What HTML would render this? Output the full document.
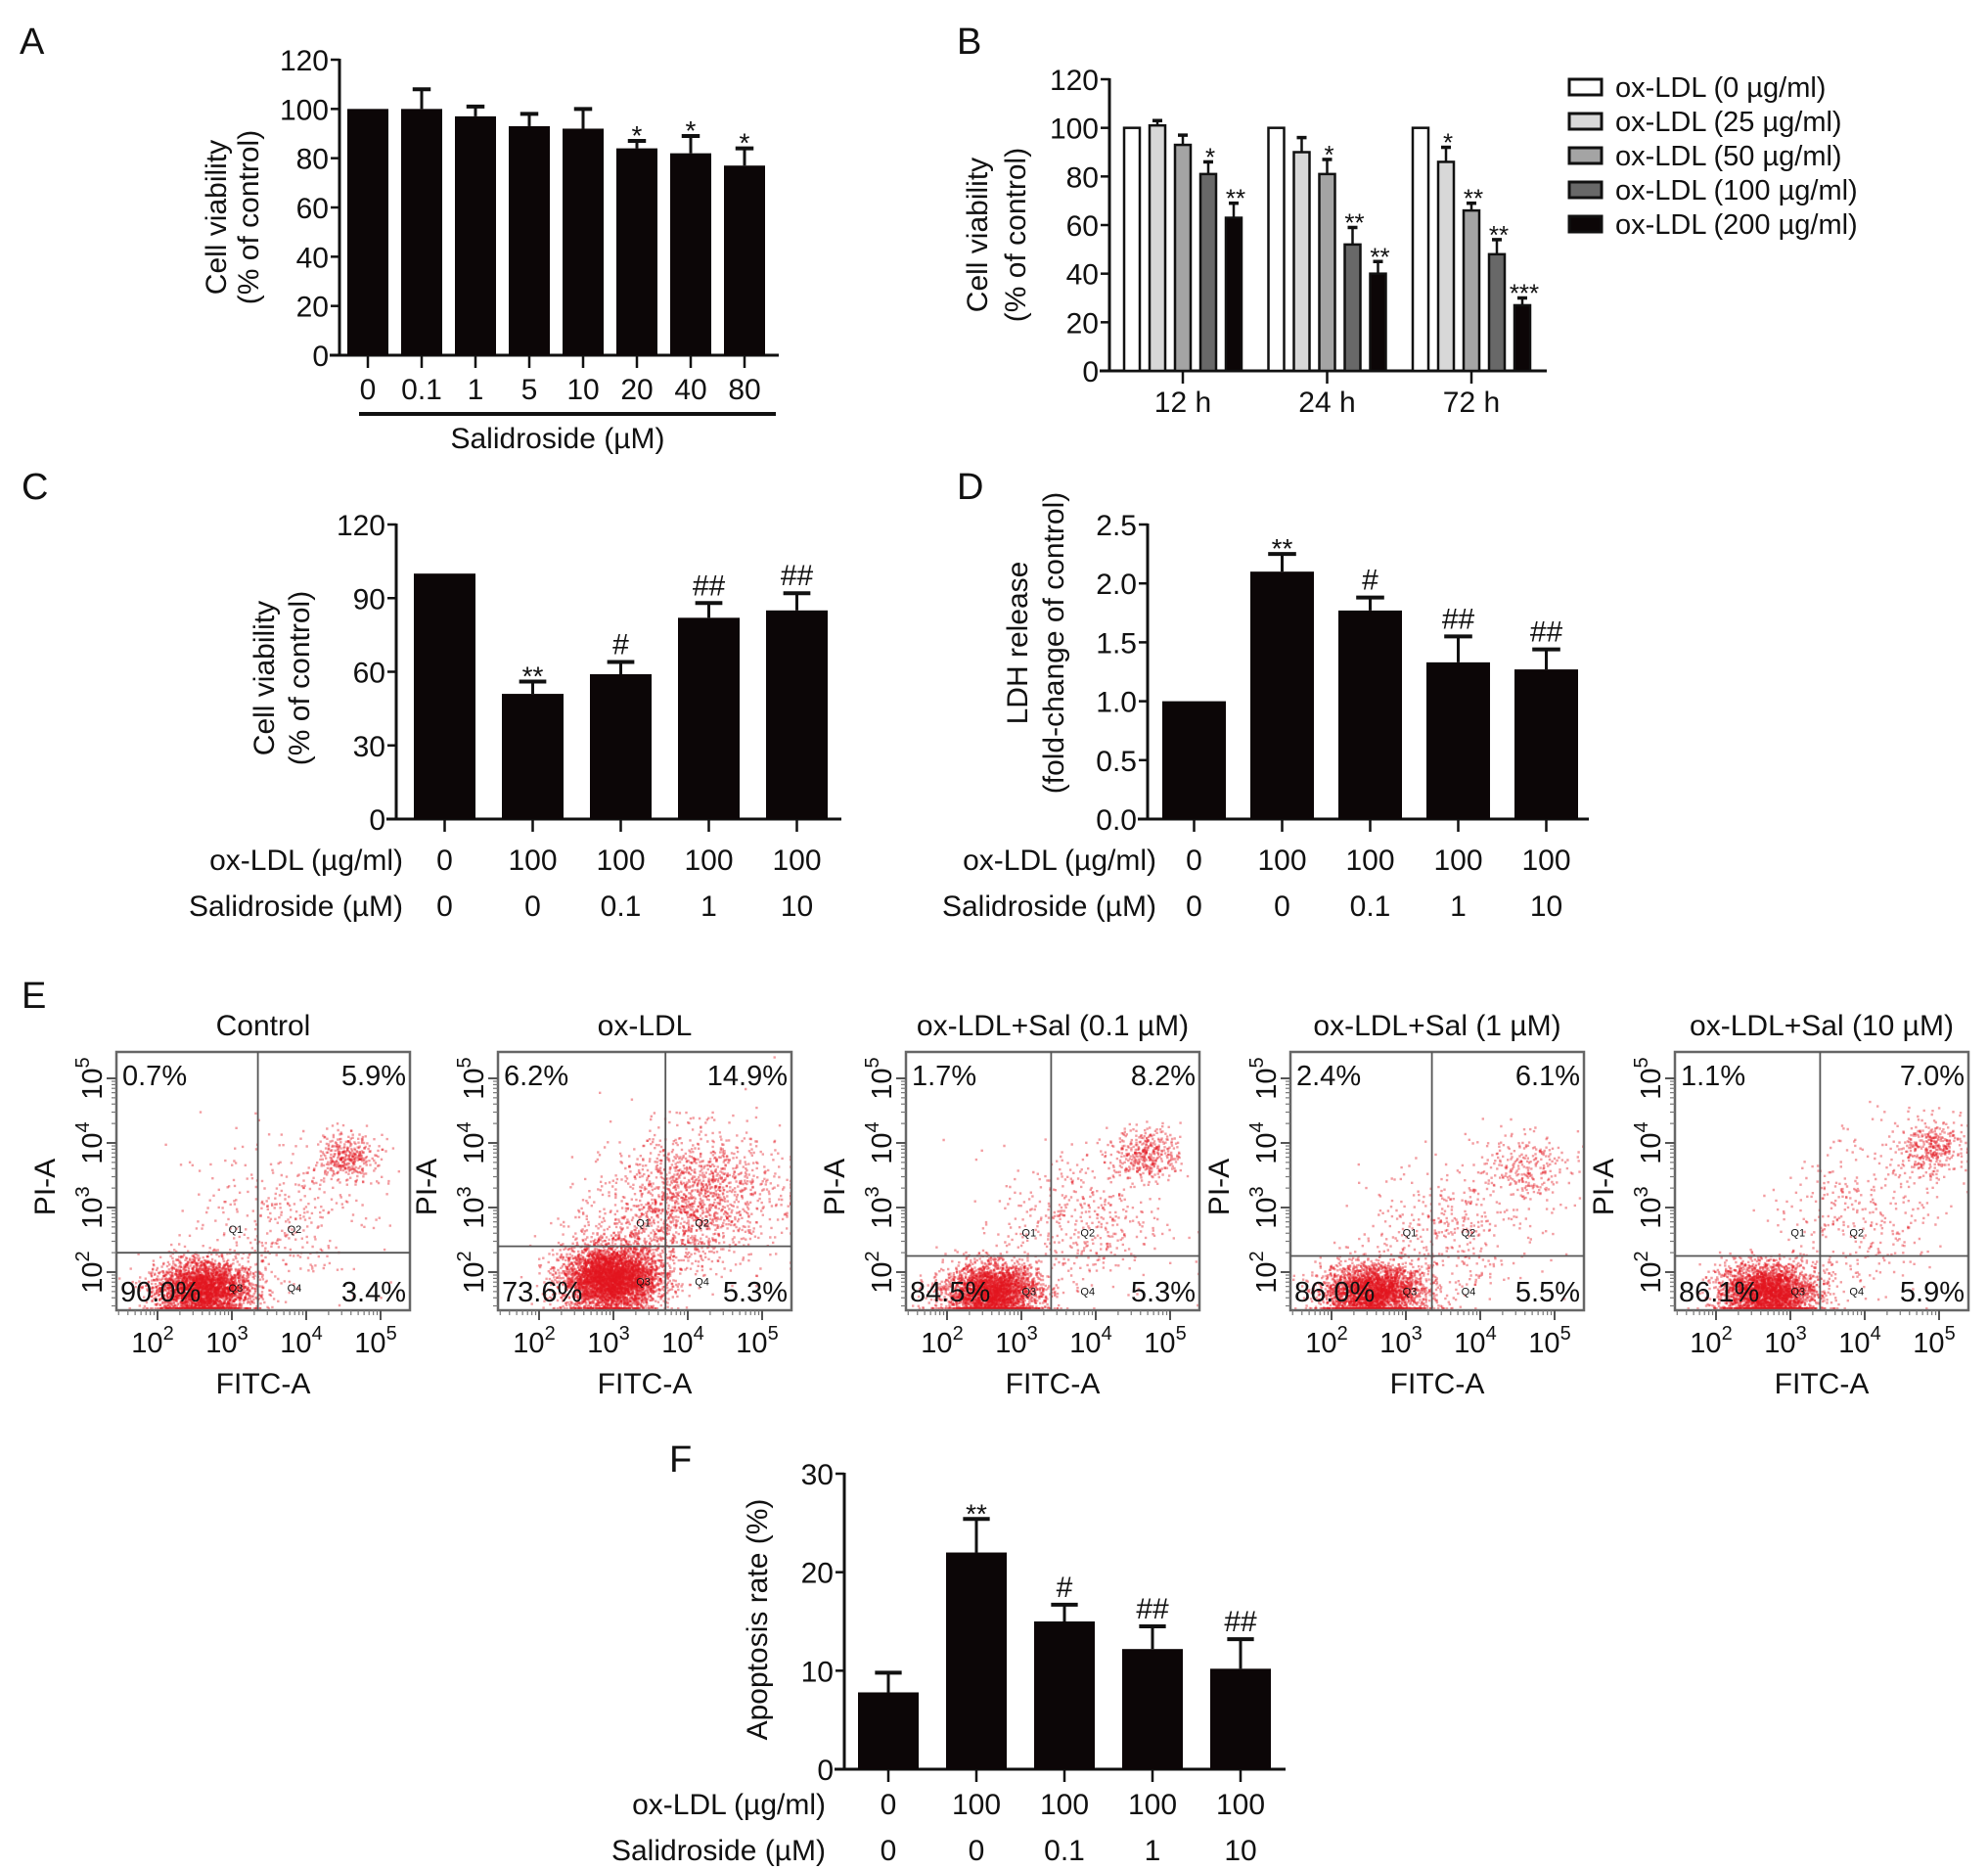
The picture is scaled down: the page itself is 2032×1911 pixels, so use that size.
<!DOCTYPE html>
<html><head><meta charset="utf-8"><style>
html,body{margin:0;padding:0;background:#fff;}
svg{display:block;}
text{font-family:"Liberation Sans",Arial,sans-serif;fill:#111;}
</style></head>
<body>
<svg id="fig" width="2032" height="1911" viewBox="0 0 2032 1911" xmlns="http://www.w3.org/2000/svg">
<rect x="0" y="0" width="2032" height="1911" fill="#fff"/>
</svg>
<script>
// ---------- DATA ----------
// Panel A
const aCats = ["0","0.1","1","5","10","20","40","80"];
const aVals = [100,100,97,93,92,84,82,77];
const aErr  = [0,8,4,5,8,3,7,7];
const aMarks = ["","","","","","*","*","*"];
const aTicks = [0,20,40,60,80,100,120];
// Panel B
const bGroups = ["12 h","24 h","72 h"];
const bSeries = ["ox-LDL (0 µg/ml)","ox-LDL (25 µg/ml)","ox-LDL (50 µg/ml)","ox-LDL (100 µg/ml)","ox-LDL (200 µg/ml)"];
const bVals12 = [100,101,93,81,63];
const bVals24 = [100,90,81,52,40];
const bVals72 = [100,86,66,48,27];
const bErr12 = [0,2,4,5,6];
const bErr24 = [0,6,6,7,5];
const bErr72 = [0,6,3,6,3];
const bMarks12 = ["","","","*","**"];
const bMarks24 = ["","","*","**","**"];
const bMarks72 = ["","*","**","**","***"];
const bTicks = [0,20,40,60,80,100,120];
// Panel C
const cOx = ["0","100","100","100","100"];
const cSal = ["0","0","0.1","1","10"];
const cVals = [100,51,59,82,85];
const cErr = [0,5,5,6,7];
const cMarks = ["","**","#","##","##"];
const cTicks = [0,30,60,90,120];
// Panel D
const dVals = [1.0,2.1,1.77,1.33,1.27];
const dErr = [0,0.15,0.11,0.22,0.17];
const dMarks = ["","**","#","##","##"];
const dTicks = [0,0.5,1.0,1.5,2.0,2.5];
const dTickLabels = ["0.0","0.5","1.0","1.5","2.0","2.5"];
// Panel F
const fVals = [7.8,22,15,12.2,10.2];
const fErr = [2,3.4,1.7,2.3,3];
const fMarks = ["","**","#","##","##"];
const fTicks = [0,10,20,30];
// Panel E (flow cytometry)
const eTitles = ["Control","ox-LDL","ox-LDL+Sal (0.1 µM)","ox-LDL+Sal (1 µM)","ox-LDL+Sal (10 µM)"];
const eQ1 = ["0.7%","6.2%","1.7%","2.4%","1.1%"];
const eQ2 = ["5.9%","14.9%","8.2%","6.1%","7.0%"];
const eQ3 = ["90.0%","73.6%","84.5%","86.0%","86.1%"];
const eQ4 = ["3.4%","5.3%","5.3%","5.5%","5.9%"];
// gate positions in log10 units
const eGateX = [3.35,3.7,3.4,3.35,3.4];
const eGateY = [2.3,2.4,2.25,2.25,2.25];
// clusters: [cx, cy, sx, sy, count] in log10 units
const eClusters = [
 [[2.6,1.75,0.32,0.22,3200],[4.55,3.8,0.2,0.18,350],[3.7,2.8,0.55,0.6,350]],
 [[2.95,1.9,0.32,0.25,4200],[4.1,3.2,0.55,0.5,1400],[3.4,2.5,0.5,0.4,500]],
 [[2.6,1.7,0.32,0.22,3000],[4.7,3.85,0.22,0.2,380],[3.8,2.8,0.55,0.6,450]],
 [[2.55,1.7,0.34,0.22,3000],[4.6,3.6,0.28,0.28,260],[3.6,2.6,0.55,0.55,400]],
 [[2.7,1.7,0.32,0.22,3000],[4.85,3.95,0.22,0.22,380],[3.9,2.9,0.55,0.6,350]]
];

// ---------- HELPERS ----------
const svg = document.getElementById('fig');
const NS = svg.namespaceURI;
function add(parent, tag, attrs, name, text) {
  const e = document.createElementNS(NS, tag);
  for (const k in attrs) e.setAttribute(k, attrs[k]);
  
  
  if (text != null) e.textContent = text;
  parent.appendChild(e);
  return e;
}
function rotText(parent, x, y, s, size, name) {
  return add(parent, 'text', {x:x, y:y, 'font-size':size, 'text-anchor':'middle', transform:'rotate(-90 '+x+' '+y+')'}, name, s);
}

function barChart(g, cfg) {
  const ys = v => cfg.yBase - v / cfg.ymax * (cfg.yBase - cfg.yTop);
  const cx = i => cfg.barStart + cfg.bw / 2 + i * cfg.pitch;
  add(g, 'line', {x1:cfg.axX, y1:cfg.yTop-1, x2:cfg.axX, y2:cfg.yBase, stroke:'#111','stroke-width':3}, 'y-axis');
  add(g, 'line', {x1:cfg.axX-10, y1:cfg.yBase, x2:cfg.xEnd, y2:cfg.yBase, stroke:'#111','stroke-width':3}, 'x-axis');
  cfg.ticks.forEach((t, k) => {
    add(g, 'line', {x1:cfg.axX-9, y1:ys(t), x2:cfg.axX, y2:ys(t), stroke:'#111','stroke-width':2.5}, 'y-tick');
    add(g, 'text', {x:cfg.axX-11, y:ys(t)+11, 'font-size':30, 'text-anchor':'end'}, 'y-tick-label', cfg.tickLabels ? cfg.tickLabels[k] : String(t));
  });
  cfg.values.forEach((v, i) => {
    const x = cx(i);
    add(g, 'line', {x1:x, y1:cfg.yBase, x2:x, y2:cfg.yBase+13, stroke:'#111','stroke-width':2.5}, 'x-tick');
    const top = ys(v + cfg.errors[i]);
    if (cfg.errors[i] > 0) {
      add(g, 'line', {x1:x, y1:ys(v), x2:x, y2:top, stroke:'#111','stroke-width':3}, 'error-bar');
      add(g, 'line', {x1:x-cfg.bw*0.22, y1:top, x2:x+cfg.bw*0.22, y2:top, stroke:'#111','stroke-width':4}, 'error-cap');
    }
    add(g, 'rect', {x:cx(i)-cfg.bw/2, y:ys(v), width:cfg.bw, height:cfg.yBase-ys(v), fill:'#0c0607'}, 'bar-' + i);
    const m = cfg.marks[i];
    if (m) {
      const isHash = m[0] === '#';
      add(g, 'text', {x:x, y: isHash ? top-8 : top+4, 'font-size': isHash ? 30 : 28, 'text-anchor':'middle'}, isHash ? 'significance-hash' : 'significance-star', m);
    }
  });
  return cx;
}
function rowLabels(g, cx, n, y1, y2, rightX) {
  add(g, 'text', {x:rightX, y:y1, 'font-size':30, 'text-anchor':'end'}, 'row-title-oxldl', 'ox-LDL (µg/ml)');
  add(g, 'text', {x:rightX, y:y2, 'font-size':30, 'text-anchor':'end'}, 'row-title-salidroside', 'Salidroside (µM)');
  for (let i = 0; i < n; i++) {
    add(g, 'text', {x:cx(i), y:y1, 'font-size':30, 'text-anchor':'middle'}, 'oxldl-dose-label', cOx[i]);
    add(g, 'text', {x:cx(i), y:y2, 'font-size':30, 'text-anchor':'middle'}, 'salidroside-dose-label', cSal[i]);
  }
}
function letter(x, y, s) {
  add(svg, 'text', {x:x, y:y, 'font-size':38}, 'panel-label-' + s.toLowerCase(), s);
}

// ---------- PANEL A ----------
const gA = add(svg, 'g', {}, 'panel-a');
letter(20, 55, 'A');
const cxA = barChart(gA, {axX:347, yBase:363, yTop:61, ymax:120, ticks:aTicks, barStart:355, pitch:55, bw:42, xEnd:796, values:aVals, errors:aErr, marks:aMarks});
aCats.forEach((c, i) => add(gA, 'text', {x:cxA(i), y:408, 'font-size':30, 'text-anchor':'middle'}, 'x-tick-label', c));
add(gA, 'line', {x1:367, y1:423, x2:793, y2:423, stroke:'#111','stroke-width':4}, 'dose-bracket');
add(gA, 'text', {x:570, y:458, 'font-size':30, 'text-anchor':'middle'}, 'x-axis-title', 'Salidroside (µM)');
rotText(gA, 231, 222, 'Cell viability', 30, 'y-axis-title');
rotText(gA, 264, 222, '(% of control)', 30, 'y-axis-title-2');

// ---------- PANEL B ----------
const gB = add(svg, 'g', {}, 'panel-b');
letter(978, 55, 'B');
const bFill = ['#ffffff','#d8d8d8','#a4a4a4','#686868','#0c0607'];
const bY = v => 379 - v / 120 * (379 - 81);
add(gB, 'line', {x1:1134, y1:80, x2:1134, y2:379, stroke:'#111','stroke-width':3}, 'y-axis');
add(gB, 'line', {x1:1124, y1:379, x2:1581, y2:379, stroke:'#111','stroke-width':3}, 'x-axis');
bTicks.forEach(t => {
  add(gB, 'line', {x1:1125, y1:bY(t), x2:1134, y2:bY(t), stroke:'#111','stroke-width':2.5}, 'y-tick');
  add(gB, 'text', {x:1123, y:bY(t)+11, 'font-size':30, 'text-anchor':'end'}, 'y-tick-label', String(t));
});
const bAll = [bVals12, bVals24, bVals72];
const bErrAll = [bErr12, bErr24, bErr72];
const bMarkAll = [bMarks12, bMarks24, bMarks72];
const groupCx = g => 1209 + g * 147.5;
bGroups.forEach((gname, gi) => {
  const gc = groupCx(gi);
  add(gB, 'line', {x1:gc, y1:379, x2:gc, y2:392, stroke:'#111','stroke-width':2.5}, 'x-tick');
  add(gB, 'text', {x:gc, y:421, 'font-size':30, 'text-anchor':'middle'}, 'x-tick-label', gname);
  bAll[gi].forEach((v, si) => {
    const x = gc + (si - 2) * 26;
    const top = bY(v + bErrAll[gi][si]);
    if (bErrAll[gi][si] > 0) {
      add(gB, 'line', {x1:x, y1:bY(v), x2:x, y2:top, stroke:'#111','stroke-width':2.5}, 'error-bar');
      add(gB, 'line', {x1:x-5, y1:top, x2:x+5, y2:top, stroke:'#111','stroke-width':3.5}, 'error-cap');
    }
    add(gB, 'rect', {x:x-8, y:bY(v), width:16, height:379-bY(v), fill:bFill[si], stroke:'#111','stroke-width':2.5}, 'bar-' + gname.replace(' ','') + '-s' + si);
    const m = bMarkAll[gi][si];
    if (m) add(gB, 'text', {x:x+2, y:top+4, 'font-size':26, 'text-anchor':'middle'}, 'significance-star', m);
  });
});
rotText(gB, 1009, 240, 'Cell viability', 30, 'y-axis-title');
rotText(gB, 1048, 240, '(% of control)', 30, 'y-axis-title-2');
bSeries.forEach((s, i) => {
  const y = 89 + i * 35;
  add(gB, 'rect', {x:1604, y:y-8, width:33, height:16, fill:bFill[i], stroke:'#111','stroke-width':3}, 'legend-swatch-' + i);
  add(gB, 'text', {x:1651, y:y+10, 'font-size':29}, 'legend-entry-' + i, s);
});

// ---------- PANEL C ----------
const gC = add(svg, 'g', {}, 'panel-c');
letter(22, 510, 'C');
const cxC = barChart(gC, {axX:405, yBase:837, yTop:536, ymax:120, ticks:cTicks, barStart:423, pitch:90, bw:63, xEnd:860, values:cVals, errors:cErr, marks:cMarks});
rowLabels(gC, cxC, 5, 889, 936, 412);
rotText(gC, 280, 693, 'Cell viability', 30, 'y-axis-title');
rotText(gC, 316, 693, '(% of control)', 30, 'y-axis-title-2');

// ---------- PANEL D ----------
const gD = add(svg, 'g', {}, 'panel-d');
letter(978, 510, 'D');
const cxD = barChart(gD, {axX:1173, yBase:837, yTop:536, ymax:2.5, ticks:dTicks, tickLabels:dTickLabels, barStart:1188, pitch:90, bw:65, xEnd:1624, values:dVals, errors:dErr, marks:dMarks});
rowLabels(gD, cxD, 5, 889, 936, 1182);
rotText(gD, 1050, 657, 'LDH release', 30, 'y-axis-title');
rotText(gD, 1087, 657, '(fold-change of control)', 30, 'y-axis-title-2');

// ---------- PANEL E ----------
letter(22, 1030, 'E');
const frameX = [119,509,926,1319,1712];
const frameW = 300;
const fTop = 1075, fBot = 1339;
function rng(seed) { let s = seed; return () => { s = (s * 1103515245 + 12345) % 2147483648; return s / 2147483648; }; }
function gauss(r) { let u = r() || 1e-6, v = r(); return Math.sqrt(-2 * Math.log(u)) * Math.cos(2 * Math.PI * v); }
for (let p = 0; p < 5; p++) {
  const gE = add(svg, 'g', {}, 'flow-plot-' + p);
  const gDots = add(gE, 'g', {fill:'#e3161e', 'fill-opacity':0.42}, 'scatter-events');
  const L = frameX[p];
  const lx = v => L + 42 + (v - 2) * 76;
  const ly = v => 1300 - (v - 2) * 66;
  const rand = rng(1234 + p * 77);
  let dots = '', cnt = 0;
  eClusters[p].forEach(c => {
    for (let k = 0; k < c[4]; k++) {
      let x = lx(c[0] + gauss(rand) * c[2]);
      let y = ly(c[1] + gauss(rand) * c[3]);
      x = Math.max(L + 2, Math.min(L + frameW - 2, x));
      y = Math.max(fTop + 2, Math.min(fBot - 3, y));
      dots += 'M' + x.toFixed(1) + ' ' + y.toFixed(1) + 'h2.4v2.4h-2.4z';
      cnt++;
      if (cnt % 15 === 0) { add(gDots, 'path', {d:dots}, 'event-dots'); dots = ''; }
    }
  });
  if (dots) add(gDots, 'path', {d:dots}, 'event-dots');
  add(gE, 'rect', {x:L, y:fTop, width:frameW, height:fBot-fTop, fill:'none', stroke:'#666','stroke-width':2.5}, 'plot-frame');
  const gx = lx(eGateX[p]), gy = ly(eGateY[p]);
  add(gE, 'line', {x1:gx, y1:fTop, x2:gx, y2:fBot, stroke:'#555','stroke-width':1.8}, 'quadrant-gate-vertical');
  add(gE, 'line', {x1:L, y1:gy, x2:L+frameW, y2:gy, stroke:'#555','stroke-width':1.8}, 'quadrant-gate-horizontal');
  add(gE, 'text', {x:gx-30, y:gy-20, 'font-size':11, fill:'#555'}, 'gate-q1-tag', 'Q1');
  add(gE, 'text', {x:gx+30, y:gy-20, 'font-size':11, fill:'#555'}, 'gate-q2-tag', 'Q2');
  add(gE, 'text', {x:gx-30, y:gy+40, 'font-size':11, fill:'#555'}, 'gate-q3-tag', 'Q3');
  add(gE, 'text', {x:gx+30, y:gy+40, 'font-size':11, fill:'#555'}, 'gate-q4-tag', 'Q4');
  add(gE, 'text', {x:L+6, y:fTop+34, 'font-size':29}, 'quadrant-q1-percent', eQ1[p]);
  add(gE, 'text', {x:L+frameW-4, y:fTop+34, 'font-size':29, 'text-anchor':'end'}, 'quadrant-q2-percent', eQ2[p]);
  add(gE, 'text', {x:L+4, y:fBot-9, 'font-size':29}, 'quadrant-q3-percent', eQ3[p]);
  add(gE, 'text', {x:L+frameW-4, y:fBot-9, 'font-size':29, 'text-anchor':'end'}, 'quadrant-q4-percent', eQ4[p]);
  add(gE, 'text', {x:L+frameW/2, y:1058, 'font-size':30, 'text-anchor':'middle'}, 'flow-plot-title', eTitles[p]);
  for (let d = 2; d <= 5; d++) {
    add(gE, 'line', {x1:lx(d), y1:fBot, x2:lx(d), y2:fBot+10, stroke:'#555','stroke-width':2}, 'x-major-tick');
    const t = add(gE, 'text', {x:lx(d)-5, y:1382, 'font-size':29, 'text-anchor':'middle'}, 'x-tick-label', '10');
    add(t, 'tspan', {dy:-13, 'font-size':20}, 'x-tick-exponent', String(d));
    add(gE, 'line', {x1:L-10, y1:ly(d), x2:L, y2:ly(d), stroke:'#555','stroke-width':2}, 'y-major-tick');
    const ty = add(gE, 'text', {x:L-20, y:ly(d)+5, 'font-size':29, 'text-anchor':'middle', transform:'rotate(-90 '+(L-20)+' '+ly(d)+')'}, 'y-tick-label', '10');
    add(ty, 'tspan', {dy:-13, 'font-size':20}, 'y-tick-exponent', String(d));
    for (let m = 2; m < 10; m++) {
      const lv = d - 1 + Math.log10(m);
      if (lx(lv) > L) add(gE, 'line', {x1:lx(lv), y1:fBot, x2:lx(lv), y2:fBot+5, stroke:'#777','stroke-width':1.2}, 'x-minor-tick');
      if (ly(lv) < fBot) add(gE, 'line', {x1:L-5, y1:ly(lv), x2:L, y2:ly(lv), stroke:'#777','stroke-width':1.2}, 'y-minor-tick');
    }
  }
  add(gE, 'text', {x:L+frameW/2, y:1424, 'font-size':30, 'text-anchor':'middle'}, 'x-axis-title', 'FITC-A');
  rotText(gE, L-63, 1213, 'PI-A', 30, 'y-axis-title');
}

// ---------- PANEL F ----------
const gF = add(svg, 'g', {}, 'panel-f');
letter(684, 1504, 'F');
const cxF = barChart(gF, {axX:863, yBase:1808, yTop:1506, ymax:30, ticks:fTicks, barStart:877, pitch:90, bw:62, xEnd:1314, values:fVals, errors:fErr, marks:fMarks});
rowLabels(gF, cxF, 5, 1854, 1901, 844);
rotText(gF, 784, 1655, 'Apoptosis rate (%)', 30, 'y-axis-title');
</script>
</body></html>
